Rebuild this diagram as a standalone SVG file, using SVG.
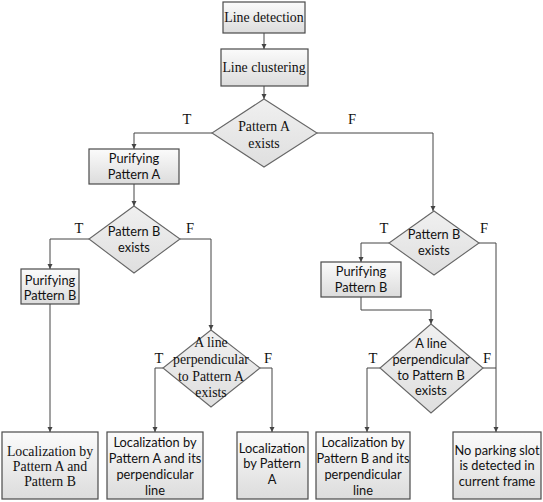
<svg xmlns="http://www.w3.org/2000/svg" width="543" height="502" viewBox="0 0 543 502">
<defs>
<linearGradient id="g" x1="0" y1="0" x2="0" y2="1">
<stop offset="0" stop-color="#fbfbfb"/>
<stop offset="1" stop-color="#dcdcdc"/>
</linearGradient>
<linearGradient id="gd" x1="0" y1="0" x2="0" y2="1">
<stop offset="0" stop-color="#f0f0f0"/>
<stop offset="1" stop-color="#dfdfdf"/>
</linearGradient>
<marker id="ah" markerWidth="6" markerHeight="6" refX="5" refY="3" orient="auto" markerUnits="userSpaceOnUse">
<path d="M0,0.5 L5,3 L0,5.5 Z" fill="#444"/>
</marker>
<style>
.box{fill:url(#g);stroke:#4a4a4a;stroke-width:1.2}
.dia{fill:url(#gd);stroke:#666;stroke-width:1.1}
.serif{font-family:"Liberation Serif","Times New Roman",serif;font-size:13.8px;fill:#111;text-anchor:middle}
.sans{font-family:Lato,"Liberation Sans",sans-serif;font-size:12.8px;fill:#111;text-anchor:middle}
.lbl{font-family:"Liberation Serif","Times New Roman",serif;font-size:14.5px;fill:#111;text-anchor:middle}
.c{fill:none;stroke:#444;stroke-width:1}
.a{marker-end:url(#ah)}
</style>
</defs>

<g id="connectors">
<path class="c a" d="M264,33 V49"/>
<path class="c a" d="M264,86 V99"/>
<path class="c a" d="M212,133 H134 V149"/>
<path class="c a" d="M317,133 H433 V211"/>
<path class="c a" d="M134,184 V206"/>
<path class="c a" d="M89,239 H50 V269"/>
<path class="c a" d="M180,239 H211 V330"/>
<path class="c a" d="M50,304 V432"/>
<path class="c a" d="M163,368 H155 V432"/>
<path class="c a" d="M260,368 H272 V432"/>
<path class="c a" d="M389,243 H361 V262"/>
<path class="c a" d="M479,243 H496 V432"/>
<path class="c a" d="M361,297 V310 H431 V324"/>
<path class="c a" d="M380,368 H367 V432"/>
<path class="c" d="M483,368 H496"/>
<text class="lbl" x="187" y="124">T</text>
<text class="lbl" x="352" y="124">F</text>
<text class="lbl" x="79" y="233">T</text>
<text class="lbl" x="190" y="233">F</text>
<text class="lbl" x="384" y="233">T</text>
<text class="lbl" x="484" y="233">F</text>
<text class="lbl" x="159" y="363">T</text>
<text class="lbl" x="268" y="363">F</text>
<text class="lbl" x="373" y="363">T</text>
<text class="lbl" x="487" y="363">F</text>
</g>

<g id="line-detection">
<rect class="box" x="223" y="2" width="82" height="31"/>
<text class="serif" x="264" y="22">Line detection</text>
</g>
<g id="line-clustering">
<rect class="box" x="221" y="49" width="87" height="37"/>
<text class="serif" x="264" y="72">Line clustering</text>
</g>
<g id="pattern-a-exists">
<polygon class="dia" points="264,99 317,133 264,167 212,133"/>
<text class="serif" x="264" y="131">Pattern A</text>
<text class="serif" x="264" y="148">exists</text>
</g>
<g id="purifying-a">
<rect class="box" x="89" y="149" width="90" height="35"/>
<text class="sans" x="134" y="163">Purifying</text>
<text class="sans" x="134" y="179">Pattern A</text>
</g>
<g id="pattern-b-exists-left">
<polygon class="dia" points="134,206 180,239 134,273 89,239"/>
<text class="sans" x="134" y="236">Pattern B</text>
<text class="sans" x="134" y="252">exists</text>
</g>
<g id="purifying-b-left">
<rect class="box" x="21" y="269" width="58" height="35"/>
<text class="sans" x="50" y="285">Purifying</text>
<text class="sans" x="50" y="300">Pattern B</text>
</g>
<g id="perp-a">
<polygon class="dia" points="211,330 260,368 211,407 163,368"/>
<text class="serif" x="211" y="347">A line</text>
<text class="serif" x="211" y="364">perpendicular</text>
<text class="serif" x="211" y="381">to Pattern A</text>
<text class="serif" x="211" y="397">exists</text>
</g>
<g id="pattern-b-exists-right">
<polygon class="dia" points="434,211 479,243 434,275 389,243"/>
<text class="sans" x="434" y="239">Pattern B</text>
<text class="sans" x="434" y="255">exists</text>
</g>
<g id="purifying-b-right">
<rect class="box" x="321" y="262" width="80" height="35"/>
<text class="sans" x="361" y="276">Purifying</text>
<text class="sans" x="361" y="292">Pattern B</text>
</g>
<g id="perp-b">
<polygon class="dia" points="431,324 483,368 431,413 380,368"/>
<text class="sans" x="431" y="348">A line</text>
<text class="sans" x="431" y="364">perpendicular</text>
<text class="sans" x="431" y="380">to Pattern B</text>
<text class="sans" x="431" y="395">exists</text>
</g>
<g id="loc-ab">
<rect class="box" x="2" y="432" width="96" height="67"/>
<text class="serif" x="50" y="456">Localization by</text>
<text class="serif" x="50" y="471">Pattern A and</text>
<text class="serif" x="50" y="486">Pattern B</text>
</g>
<g id="loc-a-perp">
<rect class="box" x="107" y="432" width="96" height="67"/>
<text class="sans" x="155" y="447">Localization by</text>
<text class="sans" x="155" y="463">Pattern A and its</text>
<text class="sans" x="155" y="479">perpendicular</text>
<text class="sans" x="155" y="495">line</text>
</g>
<g id="loc-a">
<rect class="box" x="237" y="432" width="71" height="67"/>
<text class="sans" x="272" y="453">Localization</text>
<text class="sans" x="272" y="468">by Pattern</text>
<text class="sans" x="272" y="484">A</text>
</g>
<g id="loc-b-perp">
<rect class="box" x="316" y="432" width="94" height="67"/>
<text class="sans" x="363" y="447">Localization by</text>
<text class="sans" x="363" y="463">Pattern B and its</text>
<text class="sans" x="363" y="479">perpendicular</text>
<text class="sans" x="363" y="495">line</text>
</g>
<g id="no-slot">
<rect class="box" x="453" y="432" width="88" height="67"/>
<text class="sans" x="497" y="455">No parking slot</text>
<text class="sans" x="497" y="470">is detected in</text>
<text class="sans" x="497" y="486">current frame</text>
</g>
</svg>
